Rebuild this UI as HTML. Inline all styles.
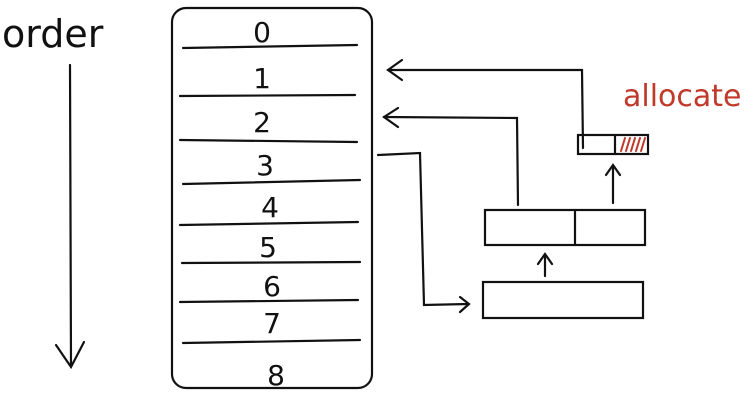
<!DOCTYPE html>
<html><head><meta charset="utf-8"><style>
html,body{margin:0;padding:0;background:#fff;width:752px;height:400px;overflow:hidden}
svg text{font-family:"DejaVu Sans","Liberation Sans",sans-serif}
</style></head><body>
<svg width="752" height="400" viewBox="0 0 752 400" xmlns="http://www.w3.org/2000/svg" fill="none" stroke="#111" stroke-width="2.2" stroke-linecap="round">
<text x="2" y="47" font-size="38" fill="#111" stroke="none">order</text>
<line x1="70" y1="65" x2="71" y2="365"/>
<polyline points="56,345 71,367 84,342"/>
<rect x="172" y="8" width="200" height="380" rx="14"/>
<g>
<line x1="183" y1="48" x2="357" y2="45"/>
<line x1="180" y1="96" x2="355" y2="95"/>
<line x1="180" y1="140" x2="357" y2="142"/>
<line x1="183" y1="184" x2="360" y2="180"/>
<line x1="180" y1="225" x2="358" y2="222"/>
<line x1="182" y1="263" x2="360" y2="262"/>
<line x1="180" y1="302" x2="358" y2="300"/>
<line x1="183" y1="343" x2="360" y2="340"/>
</g>
<g fill="#111" stroke="none" font-size="28" text-anchor="middle">
<text x="262" y="42">0</text>
<text x="262" y="88">1</text>
<text x="262" y="132">2</text>
<text x="265" y="175">3</text>
<text x="270" y="217">4</text>
<text x="268" y="257">5</text>
<text x="272" y="296">6</text>
<text x="272" y="333">7</text>
<text x="276" y="385">8</text>
</g>
<polyline points="583,148 582,70 388,70"/>
<polyline points="402,60 388,70 402,80"/>
<polyline points="518,205 517,118 384,117"/>
<polyline points="398,108 384,117 398,127"/>
<polyline points="378,155 420,153 424,305 468,304"/>
<polyline points="460,297 469,304 460,312"/>
<rect x="578" y="135" width="70" height="19"/>
<line x1="615" y1="135" x2="615" y2="154"/>
<g stroke="#c0392b" stroke-width="2">
<line x1="621" y1="151" x2="625" y2="138"/><line x1="626" y1="151" x2="630" y2="138"/>
<line x1="631" y1="151" x2="635" y2="138"/><line x1="636" y1="151" x2="640" y2="138"/>
<line x1="641" y1="151" x2="645" y2="138"/>
</g>
<text x="623" y="106" font-size="30" fill="#c0392b" stroke="none">allocate</text>
<rect x="485" y="210" width="160" height="35"/>
<line x1="575" y1="210" x2="575" y2="245"/>
<line x1="613" y1="203" x2="613" y2="167"/>
<polyline points="606,175 613,165 620,175"/>
<rect x="483" y="282" width="160" height="36"/>
<line x1="545" y1="276" x2="545" y2="256"/>
<polyline points="538,264 545,254 552,264"/>
</svg>
</body></html>
